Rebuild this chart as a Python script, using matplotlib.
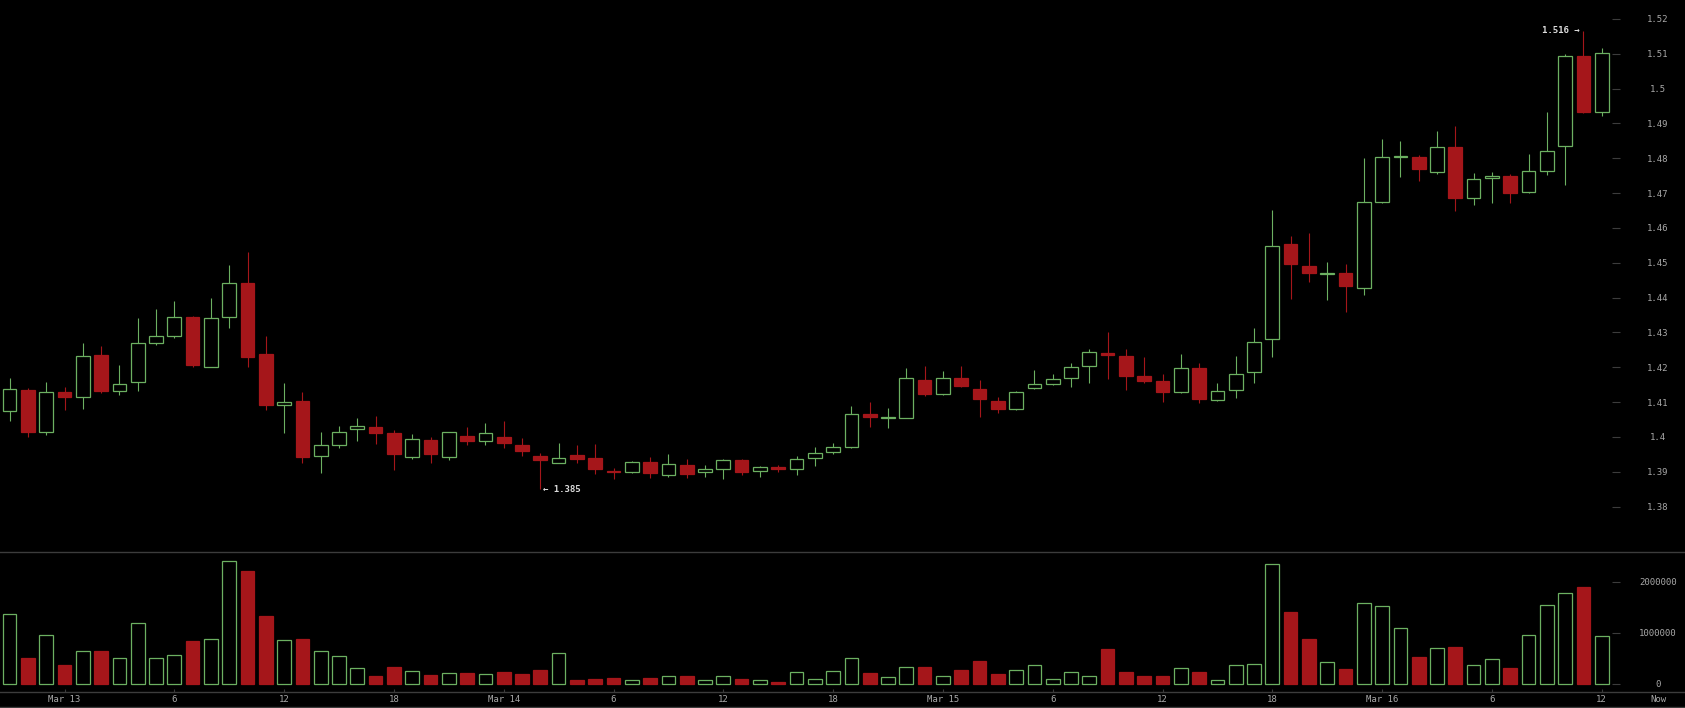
import matplotlib
matplotlib.use("Agg")
import matplotlib.pyplot as plt
from matplotlib.lines import Line2D
import numpy as np

# Bougies horaires, du 12 mars 21h au 16 mars 12h
ouv = [1.4075, 1.4135, 1.4015, 1.4128, 1.4114, 1.4235, 1.4132, 1.4157, 1.4269, 1.4290,
       1.4344, 1.4202, 1.4345, 1.4441, 1.4238, 1.4093, 1.4103, 1.3946, 1.3977, 1.4022,
       1.4028, 1.4010, 1.3943, 1.3991, 1.3943, 1.4003, 1.3987, 1.4001, 1.3977, 1.3946,
       1.3926, 1.3947, 1.3939, 1.3902, 1.3900, 1.3927, 1.3890, 1.3920, 1.3898, 1.3908,
       1.3934, 1.3902, 1.3915, 1.3908, 1.3939, 1.3958, 1.3971, 1.4065, 1.4055, 1.4055,
       1.4163, 1.4123, 1.4168, 1.4139, 1.4103, 1.4079, 1.4140, 1.4151, 1.4168, 1.4204,
       1.4240, 1.4232, 1.4175, 1.4161, 1.4130, 1.4197, 1.4106, 1.4135, 1.4186, 1.4281,
       1.4553, 1.4491, 1.4468, 1.4470, 1.4427, 1.4675, 1.4805, 1.4805, 1.4760, 1.4832,
       1.4687, 1.4744, 1.4749, 1.4702, 1.4764, 1.4836, 1.5094, 1.4934]
haut = [1.4168, 1.4140, 1.4159, 1.4142, 1.4269, 1.4262, 1.4207, 1.4341, 1.4367, 1.4391,
        1.4348, 1.4400, 1.4494, 1.4532, 1.4290, 1.4154, 1.4128, 1.4013, 1.4031, 1.4054,
        1.4060, 1.4020, 1.4008, 1.4001, 1.4015, 1.4030, 1.4039, 1.4047, 1.3996, 1.3955,
        1.3982, 1.3976, 1.3979, 1.3910, 1.3932, 1.3942, 1.3951, 1.3937, 1.3920, 1.3937,
        1.3937, 1.3917, 1.3920, 1.3945, 1.3972, 1.3984, 1.4089, 1.4101, 1.4082, 1.4199,
        1.4205, 1.4189, 1.4205, 1.4163, 1.4115, 1.4132, 1.4192, 1.4180, 1.4213, 1.4252,
        1.4300, 1.4252, 1.4229, 1.4181, 1.4237, 1.4213, 1.4154, 1.4232, 1.4314, 1.4652,
        1.4578, 1.4585, 1.4503, 1.4497, 1.4800, 1.4855, 1.4851, 1.4810, 1.4878, 1.4893,
        1.4759, 1.4762, 1.4755, 1.4812, 1.4932, 1.5100, 1.5166, 1.5116]
bas = [1.4046, 1.4001, 1.4005, 1.4077, 1.4079, 1.4125, 1.4121, 1.4132, 1.4265, 1.4285,
       1.4200, 1.4200, 1.4314, 1.4202, 1.4077, 1.4011, 1.3924, 1.3897, 1.3969, 1.3987,
       1.3979, 1.3905, 1.3937, 1.3926, 1.3934, 1.3978, 1.3978, 1.3969, 1.3946, 1.3850,
       1.3925, 1.3926, 1.3893, 1.3880, 1.3897, 1.3883, 1.3886, 1.3881, 1.3886, 1.3878,
       1.3891, 1.3886, 1.3900, 1.3891, 1.3917, 1.3951, 1.3968, 1.4029, 1.4025, 1.4053,
       1.4117, 1.4120, 1.4144, 1.4058, 1.4068, 1.4077, 1.4139, 1.4150, 1.4144, 1.4156,
       1.4166, 1.4135, 1.4154, 1.4101, 1.4127, 1.4097, 1.4103, 1.4111, 1.4156, 1.4230,
       1.4396, 1.4446, 1.4393, 1.4358, 1.4408, 1.4672, 1.4745, 1.4735, 1.4755, 1.4649,
       1.4666, 1.4673, 1.4673, 1.4700, 1.4752, 1.4723, 1.4929, 1.4922]
ferm = [1.4138, 1.4015, 1.4128, 1.4114, 1.4232, 1.4132, 1.4151, 1.4269, 1.4290, 1.4345,
        1.4208, 1.4341, 1.4441, 1.4230, 1.4092, 1.4100, 1.3943, 1.3978, 1.4014, 1.4031,
        1.4012, 1.3951, 1.3993, 1.3950, 1.4013, 1.3989, 1.4012, 1.3984, 1.3960, 1.3935,
        1.3939, 1.3937, 1.3908, 1.3899, 1.3929, 1.3897, 1.3922, 1.3893, 1.3908, 1.3933,
        1.3900, 1.3915, 1.3908, 1.3936, 1.3955, 1.3970, 1.4065, 1.4058, 1.4058, 1.4168,
        1.4123, 1.4168, 1.4147, 1.4108, 1.4079, 1.4129, 1.4151, 1.4166, 1.4200, 1.4243,
        1.4236, 1.4175, 1.4161, 1.4130, 1.4197, 1.4109, 1.4132, 1.4180, 1.4272, 1.4549,
        1.4496, 1.4470, 1.4470, 1.4434, 1.4674, 1.4803, 1.4808, 1.4768, 1.4832, 1.4685,
        1.4740, 1.4749, 1.4700, 1.4764, 1.4821, 1.5094, 1.4932, 1.5102]
volume = [1368000, 500000, 958000, 371000, 638000, 645000, 500000, 1205000, 500000, 560000,
          840000, 873000, 2420000, 2210000, 1335000, 853000, 879000, 638000, 541000, 319000,
          156000, 332000, 260000, 169000, 208000, 208000, 189000, 228000, 189000, 280000,
          612000, 72000, 98000, 124000, 72000, 124000, 156000, 156000, 72000, 150000,
          104000, 72000, 40000, 228000, 104000, 248000, 500000, 215000, 137000, 332000,
          339000, 156000, 274000, 456000, 195000, 267000, 365000, 104000, 228000, 156000,
          684000, 235000, 156000, 156000, 306000, 235000, 85000, 365000, 384000, 2358000,
          1407000, 879000, 423000, 287000, 1590000, 1537000, 1107000, 521000, 697000, 730000,
          365000, 482000, 306000, 958000, 1557000, 1785000, 1896000, 938000]

# Graduations
prix_ticks = [1.38, 1.39, 1.40, 1.41, 1.42, 1.43, 1.44, 1.45, 1.46, 1.47, 1.48, 1.49, 1.50, 1.51, 1.52]
vol_ticks = [0, 1000000, 2000000]
x_ticks = [3, 9, 15, 21, 27, 33, 39, 45, 51, 57, 63, 69, 75, 81, 87]
x_labels = ["Mar 13", "6", "12", "18", "Mar 14", "6", "12", "18",
            "Mar 15", "6", "12", "18", "Mar 16", "6", "12"]

VERT = "#6cb061"
ROUGE = "#a5161a"
GRIS_TXT = "#a8a8a8"
GRIS_LIGNE = "#3c3c3c"
police = "DejaVu Sans Mono"

ouv = np.array(ouv)
ferm = np.array(ferm)
haut = np.array(haut)
bas = np.array(bas)
x = np.arange(len(ouv))
hausse = ferm >= ouv
couleur = np.where(hausse, VERT, ROUGE)
fond = np.where(hausse, "black", ROUGE)

W, H = 1685, 708
fig = plt.figure(figsize=(W / 100, H / 100), dpi=100, facecolor="black")
droite = 1620 / W
ax_p = fig.add_axes([0, 1 - 552 / H, droite, 552 / H], facecolor="black")
ax_v = fig.add_axes([0, 1 - 692 / H, droite, 140 / H], facecolor="black", sharex=ax_p)

# --- Bougies ---
ax_p.vlines(x, bas, haut, colors=couleur, linewidth=0.8, zorder=1)
corps = np.maximum(np.abs(ferm - ouv), 0.0003)
ax_p.bar(x, corps, bottom=np.minimum(ouv, ferm), width=0.75,
         color=fond, edgecolor=couleur, linewidth=0.9, zorder=2)

ax_p.annotate("\u2190 1.385", xy=(29, 1.385), xytext=(3, 0), textcoords="offset pixels",
              ha="left", va="center", color="#dcdcdc", fontsize=6.5,
              fontweight="bold", family=police)
ax_p.annotate("1.516 \u2192", xy=(86, 1.5166), xytext=(-4, 0), textcoords="offset pixels",
              ha="right", va="center", color="#dcdcdc", fontsize=6.5,
              fontweight="bold", family=police)

# --- Volumes ---
ax_v.bar(x, volume, width=0.75, color=fond, edgecolor=couleur, linewidth=0.9)

# --- Axes ---
ax_p.set_xlim(-0.525, 88.0)
ax_p.set_ylim(1.36697, 1.52545)
ax_v.set_ylim(-157000, 2588000)

for ax in (ax_p, ax_v):
    for s in ax.spines.values():
        s.set_visible(False)
    ax.yaxis.tick_right()
    ax.tick_params(axis="y", direction="in", length=5.8, width=0.8, color=GRIS_LIGNE,
                   labelcolor=GRIS_TXT, labelsize=6.5, pad=27.4)

ax_p.set_yticks(prix_ticks)
ax_p.set_yticklabels([f"{t:g}" for t in prix_ticks], family=police)
ax_v.set_yticks(vol_ticks)
ax_v.set_yticklabels([str(t) for t in vol_ticks], family=police)
for ax in (ax_p, ax_v):
    for lab in ax.get_yticklabels():
        lab.set_horizontalalignment("center")

ax_p.tick_params(axis="x", bottom=False, labelbottom=False)
ax_v.set_xticks(x_ticks)
ax_v.set_xticklabels(x_labels, family=police)
ax_v.tick_params(axis="x", direction="in", length=2.5, width=0.8, color=GRIS_LIGNE,
                 labelcolor=GRIS_TXT, labelsize=6.5, pad=2.5)

fig.text(1658 / W, 1 - 699 / H, "Now", ha="center", va="center",
         color=GRIS_TXT, fontsize=6.5, family=police)

# lignes de separation
for yp in (552, 692, 707):
    fig.add_artist(Line2D([0, 1], [1 - yp / H] * 2, color=GRIS_LIGNE, linewidth=1.0))

fig.savefig("out.png", dpi=100, facecolor="black")
